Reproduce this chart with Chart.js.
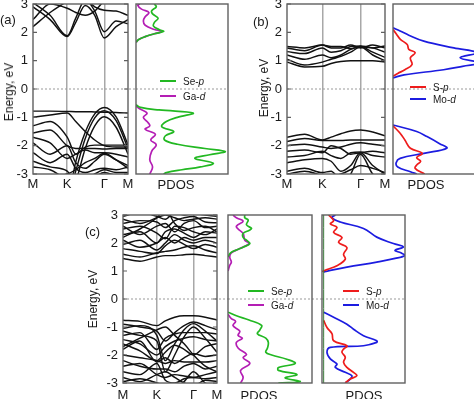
<!DOCTYPE html>
<html>
<head>
<meta charset="utf-8">
<script src="https://cdn.jsdelivr.net/npm/chart.js@4"></script>
<style>
  html, body { margin: 0; padding: 0; background: #fff; }
  body { width: 474px; height: 399px; position: relative; overflow: hidden;
         font-family: "Liberation Sans", Arial, sans-serif; color: #1a1a1a; }
  canvas { position: absolute; }
  .lbl { position: absolute; font-size: 13px; line-height: 15px; white-space: nowrap; }
  .mid { transform: translate(-50%, -50%); }
  .ylab { position: absolute; font-size: 12px; white-space: nowrap;
          transform: translate(-50%, -50%) rotate(-90deg); }
  .leg { position: absolute; display: flex; align-items: center; height: 12px;
         font-size: 10px; white-space: nowrap; }
  .leg .bar { width: 16px; height: 2px; margin-right: 7px; }
</style>
</head>
<body>
<canvas id="bandA"></canvas>
<canvas id="pdosA"></canvas>
<canvas id="bandB"></canvas>
<canvas id="pdosB"></canvas>
<canvas id="bandC"></canvas>
<canvas id="pdosC1"></canvas>
<canvas id="pdosC2"></canvas>

<div class="lbl" style="left:0;top:12px">(a)</div>
<div class="lbl" style="left:253px;top:14px">(b)</div>
<div class="lbl" style="left:85px;top:224px">(c)</div>

<div class="ylab" style="left:9px;top:92px">Energy, eV</div>
<div class="ylab" style="left:264px;top:88px">Energy, eV</div>
<div class="ylab" style="left:93px;top:299px">Energy, eV</div>

<div class="lbl mid" style="left:176px;top:184px">PDOS</div>
<div class="lbl mid" style="left:426px;top:184px">PDOS</div>
<div class="lbl mid" style="left:259px;top:395px">PDOS</div>
<div class="lbl mid" style="left:364px;top:395px">PDOS</div>

<div class="leg" style="left:160px;top:75px"><span class="bar" style="background:#22b822"></span>Se-<i>p</i></div>
<div class="leg" style="left:160px;top:90px"><span class="bar" style="background:#b41eb4"></span>Ga-<i>d</i></div>
<div class="leg" style="left:410px;top:81px"><span class="bar" style="background:#ee1c1c"></span>S-<i>p</i></div>
<div class="leg" style="left:410px;top:93px"><span class="bar" style="background:#1c1ce0"></span>Mo-<i>d</i></div>
<div class="leg" style="left:248px;top:285px"><span class="bar" style="background:#22b822"></span>Se-<i>p</i></div>
<div class="leg" style="left:248px;top:299px"><span class="bar" style="background:#b41eb4"></span>Ga-<i>d</i></div>
<div class="leg" style="left:343px;top:285px"><span class="bar" style="background:#ee1c1c"></span>S-<i>p</i></div>
<div class="leg" style="left:343px;top:299px"><span class="bar" style="background:#1c1ce0"></span>Mo-<i>d</i></div>

<script>
// ── k-path M–K–Γ–M (fractions of the path length) and energy ticks
const kPath   = [0, 0.18, 0.36, 0.45, 0.55, 0.65, 0.75, 0.875, 1];
const kTicks  = [0, 0.36, 0.75, 1];
const kLabels = ['M', 'K', 'Γ', 'M'];
const energyTicks = [-3, -2, -1, 0, 1, 2, 3];

// ── (a) GaSe bands, eV at each kPath point
const bandsA = [
  [2.9, 2.45, 1.85, 2.35, 2.95, 2.6, 1.8, 2.2, 2.45],
  [3.05, 2.6, 1.88, 2.5, 3.15, 2.75, 2.02, 2.4, 2.3],
  [2.2, 2.7, 3.1, 3.3, 3.2, 2.9, 2.78, 2.75, 2.6],
  [2.45, 3.0, 2.85, 2.7, 2.6, 2.75, 3.1, 3.2, 3.0],
  [-0.78, -0.78, -0.79, -0.8, -0.8, -0.81, -0.82, -0.83, -0.85],
  [-3.3, -3.6, -3.9, -2.57, -1.53, -0.88, -0.65, -0.98, -1.97],
  [-3.6, -3.8, -4.0, -2.9, -1.75, -1.02, -0.77, -1.12, -2.1],
  [-3.8, -4.0, -4.2, -3.3, -2.1, -1.3, -0.98, -1.35, -2.3],
  [-1.3, -1.15, -1.7, -2.3, -2.05, -1.98, -1.98, -1.98, -1.98],
  [-1.55, -1.45, -2.0, -2.1, -2.1, -2.1, -2.12, -2.1, -2.1],
  [-1.0, -0.92, -0.85, -1.15, -1.5, -1.8, -2.0, -2.05, -2.05],
  [-1.7, -1.9, -2.45, -2.3, -2.15, -2.25, -2.25, -2.3, -2.4],
  [-1.9, -2.3, -2.0, -2.6, -2.8, -2.55, -2.3, -2.5, -2.7],
  [-2.25, -2.6, -2.3, -2.8, -2.95, -2.85, -2.8, -2.85, -2.75],
  [-2.55, -2.75, -2.9, -3.3, -3.2, -3.0, -2.85, -2.95, -2.95],
  [-2.75, -2.85, -3.2, -3.3, -3.3, -3.1, -2.95, -3.05, -3.1],
  [-3.2, -3.1, -3.0, -2.85, -2.6, -2.45, -2.27, -2.5, -2.8]
];

// ── (b) MoS2 bands
const bandsB = [
  [0.95, 0.78, 0.8, 0.9, 0.97, 1.0, 1.0, 1.0, 0.95],
  [1.05, 0.85, 0.95, 1.05, 1.15, 1.3, 1.48, 1.2, 1.0],
  [1.2, 1.05, 1.2, 1.1, 1.2, 1.4, 1.5, 1.3, 1.12],
  [1.32, 1.25, 1.45, 1.3, 1.35, 1.5, 1.52, 1.45, 1.3],
  [1.45, 1.35, 1.55, 1.45, 1.45, 1.55, 1.45, 1.55, 1.45],
  [1.5, 1.45, 1.55, 1.5, 1.5, 1.42, 1.5, 1.45, 1.52],
  [-1.7, -1.6, -1.8, -1.7, -1.58, -1.48, -1.45, -1.52, -1.65],
  [-1.85, -1.75, -1.82, -1.82, -1.82, -1.8, -1.8, -1.8, -1.8],
  [-2.0, -1.95, -2.05, -2.1, -2.05, -1.95, -1.9, -1.95, -2.0],
  [-2.2, -2.15, -2.25, -2.0, -2.1, -2.3, -2.25, -2.2, -2.25],
  [-2.4, -2.35, -2.2, -2.35, -2.45, -2.25, -2.22, -2.35, -2.4],
  [-2.6, -2.5, -2.45, -2.55, -2.9, -2.7, -2.25, -2.7, -3.0],
  [-2.9, -2.8, -2.95, -2.9, -3.2, -3.0, -2.3, -3.0, -3.2],
  [-3.0, -2.9, -3.05, -3.1, -3.0, -2.85, -2.7, -2.8, -2.95]
];

// ── (c) GaSe/MoS2 bands
const bandsC = [
  [1.45, 1.35, 1.5, 1.55, 1.55, 1.58, 1.6, 1.55, 1.5],
  [1.6, 1.5, 1.65, 1.7, 1.75, 1.85, 1.9, 1.75, 1.65],
  [1.8, 1.7, 1.62, 1.9, 2.1, 1.95, 1.8, 1.95, 1.85],
  [1.95, 2.1, 1.75, 2.0, 2.3, 2.1, 2.0, 2.1, 2.0],
  [2.1, 1.85, 2.0, 2.2, 2.0, 2.2, 2.1, 2.2, 2.2],
  [2.3, 2.4, 2.0, 2.4, 2.5, 2.35, 2.2, 2.4, 2.35],
  [2.5, 2.6, 2.35, 2.15, 2.6, 2.55, 2.4, 2.3, 2.5],
  [2.6, 2.3, 2.6, 2.7, 2.4, 2.7, 2.8, 2.55, 2.6],
  [2.7, 2.8, 2.75, 2.55, 2.8, 2.9, 2.95, 2.75, 2.72],
  [2.85, 2.7, 2.9, 3.0, 2.9, 2.8, 2.85, 2.9, 2.85],
  [2.95, 3.1, 2.95, 2.85, 3.1, 3.0, 3.05, 3.0, 2.95],
  [2.2, 2.5, 2.9, 3.2, 2.7, 2.45, 2.55, 2.6, 2.4],
  [-0.76, -0.8, -0.95, -0.78, -0.65, -0.6, -0.6, -0.65, -0.75],
  [-0.9, -1.0, -1.15, -1.5, -1.2, -0.95, -0.82, -0.95, -1.1],
  [-1.05, -0.95, -1.3, -2.2, -1.6, -1.1, -0.88, -1.15, -1.5],
  [-1.15, -1.3, -1.5, -2.6, -2.0, -1.35, -1.0, -1.4, -1.9],
  [-1.3, -1.2, -1.8, -1.4, -1.25, -1.2, -1.2, -1.2, -1.25],
  [-1.45, -1.6, -2.0, -1.7, -1.5, -1.4, -1.35, -1.45, -1.5],
  [-1.6, -1.85, -2.2, -1.9, -1.65, -1.8, -2.0, -1.7, -1.6],
  [-1.8, -1.5, -2.25, -2.1, -2.3, -2.1, -1.95, -2.05, -2.0],
  [-2.0, -2.1, -2.2, -2.3, -2.2, -2.25, -2.25, -2.25, -2.2],
  [-2.2, -2.4, -2.5, -2.5, -2.6, -2.4, -2.3, -2.5, -2.4],
  [-2.4, -2.3, -2.7, -2.8, -2.7, -2.75, -2.8, -2.7, -2.6],
  [-2.6, -2.7, -2.3, -2.9, -3.0, -2.85, -2.8, -2.85, -2.8],
  [-2.8, -2.95, -2.7, -2.6, -2.8, -3.0, -3.1, -2.9, -2.95],
  [-2.95, -2.85, -3.0, -3.1, -3.2, -2.95, -2.6, -3.0, -3.1],
  [-1.7, -1.4, -1.1, -1.0, -1.3, -1.6, -2.0, -2.4, -2.6]
];

// ── PDOS curves: [energy eV, DOS (fraction of panel width)]
const seP_A_vb = [[-0.56,0],[-0.65,0.05],[-0.74,0.25],[-0.85,0.62],[-1.0,0.45],[-1.15,0.33],[-1.33,0.28],[-1.5,0.41],[-1.65,0.32],[-1.8,0.31],[-1.95,0.45],[-2.1,0.75],[-2.21,0.97],[-2.32,0.8],[-2.45,0.64],[-2.62,0.84],[-2.75,0.7],[-2.85,0.5],[-2.95,0.33],[-3.0,0.3]];
const gaD_A_vb = [[-0.6,0],[-0.7,0.04],[-0.85,0.12],[-1.0,0.08],[-1.15,0.12],[-1.3,0.15],[-1.42,0.1],[-1.6,0.21],[-1.8,0.16],[-1.97,0.22],[-2.2,0.17],[-2.5,0.15],[-2.75,0.18],[-3.0,0.15]];
const seP_A_cb = [[1.65,0],[1.75,0.03],[1.85,0.1],[1.95,0.2],[2.03,0.3],[2.1,0.25],[2.22,0.19],[2.35,0.2],[2.5,0.24],[2.65,0.18],[2.76,0.17],[2.9,0.22],[3.0,0.2]];
const gaD_A_cb = [[1.65,0],[1.75,0.03],[1.85,0.1],[1.95,0.2],[2.03,0.28],[2.1,0.2],[2.25,0.1],[2.4,0.08],[2.55,0.1],[2.7,0.14],[2.82,0.06],[2.95,0.02],[3.0,0.04]];

const sP_B_cb  = [[0.45,0],[0.55,0.06],[0.68,0.15],[0.86,0.24],[1.1,0.22],[1.28,0.28],[1.4,0.2],[1.57,0.18],[1.76,0.09],[1.95,0.04],[2.1,0]];
const moD_B_cb = [[0.39,0],[0.5,0.14],[0.68,0.64],[0.8,0.88],[0.92,1.1],[1.1,0.85],[1.28,1.06],[1.45,0.77],[1.69,0.39],[1.9,0.2],[2.05,0.09],[2.16,0]];
const sP_B_vb  = [[-1.3,0],[-1.56,0.09],[-1.8,0.15],[-2.09,0.22],[-2.27,0.37],[-2.42,0.3],[-2.55,0.35],[-2.68,0.3],[-2.8,0.28],[-3.0,0.4]];
const moD_B_vb = [[-1.27,0],[-1.5,0.3],[-1.68,0.43],[-1.93,0.59],[-2.09,0.68],[-2.27,0.39],[-2.45,0.09],[-2.6,0.04],[-2.75,0.06],[-2.92,0.22],[-3.0,0.3]];

const seP_C_cb = [[1.5,0],[1.65,0.03],[1.75,0.1],[1.85,0.18],[1.98,0.26],[2.1,0.22],[2.2,0.18],[2.34,0.18],[2.45,0.25],[2.52,0.28],[2.65,0.22],[2.82,0.24],[2.9,0.2],[3.0,0.2]];
const gaD_C_cb = [[1.0,0],[1.2,0.02],[1.32,0.04],[1.5,0.02],[1.65,0.04],[1.8,0.14],[1.98,0.25],[2.1,0.2],[2.34,0.18],[2.5,0.12],[2.6,0.1],[2.78,0.18],[2.9,0.1],[3.0,0.06]];
const seP_C_vb = [[-0.47,0],[-0.6,0.1],[-0.75,0.25],[-0.94,0.4],[-1.1,0.38],[-1.24,0.35],[-1.4,0.45],[-1.55,0.48],[-1.75,0.47],[-1.9,0.45],[-2.0,0.52],[-2.15,0.7],[-2.3,0.8],[-2.45,0.6],[-2.55,0.6],[-2.7,0.82],[-2.82,0.68],[-2.95,0.86],[-3.0,0.6]];
const gaD_C_vb = [[-0.55,0],[-0.7,0.04],[-0.8,0.09],[-0.95,0.06],[-1.15,0.14],[-1.3,0.12],[-1.4,0.17],[-1.55,0.1],[-1.75,0.12],[-1.98,0.22],[-2.1,0.18],[-2.3,0.26],[-2.55,0.15],[-2.8,0.18],[-3.0,0.15]];

const sP_C_cb  = [[0.98,0],[1.05,0.06],[1.19,0.18],[1.42,0.28],[1.6,0.26],[1.84,0.3],[2.02,0.2],[2.2,0.24],[2.38,0.14],[2.56,0.18],[2.68,0.1],[2.8,0.14],[3.0,0.08]];
const moD_C_cb = [[0.96,0.02],[1.02,0.1],[1.14,0.3],[1.32,0.66],[1.45,0.88],[1.56,1.0],[1.65,0.95],[1.74,0.88],[1.86,0.98],[1.98,0.86],[2.21,0.66],[2.52,0.5],[2.75,0.22],[2.9,0.12],[3.0,0.16]];
const sP_C_vb  = [[-0.76,0.02],[-1.02,0.06],[-1.24,0.12],[-1.49,0.14],[-1.67,0.3],[-1.79,0.26],[-1.9,0.24],[-2.08,0.28],[-2.26,0.26],[-2.44,0.3],[-2.62,0.38],[-2.74,0.42],[-2.86,0.34],[-3.0,0.28]];
const moD_C_vb = [[-0.47,0.02],[-0.65,0.14],[-0.9,0.3],[-1.08,0.38],[-1.31,0.5],[-1.49,0.66],[-1.55,0.66],[-1.67,0.5],[-1.73,0.1],[-1.9,0.06],[-2.14,0.1],[-2.32,0.18],[-2.44,0.16],[-2.62,0.28],[-2.74,0.36],[-2.86,0.34],[-3.0,0.28]];
const seP_C2   = [[-3.0,0.02],[3.0,0.02]];

const GREEN = '#22b822', PURPLE = '#b41eb4', RED = '#ee1c1c', BLUE = '#1c1ce0';
const FRAME = '#606060';

Chart.defaults.font.family = '"Liberation Sans", Arial, sans-serif';
Chart.defaults.color = '#1a1a1a';

// Caixa à volta da área, linha pontilhada em E = 0 (prolongada pelo intervalo
// até ao painel seguinte) e ticks para dentro (só nas bandas)
const framePlugin = {
  id: 'frame',
  beforeDatasetsDraw(chart, args, opts) {
    const { ctx, chartArea: a, scales: { y } } = chart;
    const y0 = y.getPixelForValue(0);
    ctx.save();
    ctx.strokeStyle = '#9a9a9a';
    ctx.lineWidth = 1;
    ctx.setLineDash([2, 2]);
    ctx.beginPath();
    ctx.moveTo(a.left, y0);
    ctx.lineTo(a.right + (opts.extend || 0), y0);
    ctx.stroke();
    ctx.restore();
  },
  afterDraw(chart, args, opts) {
    const { ctx, chartArea: a, scales: { y } } = chart;
    ctx.save();
    ctx.strokeStyle = FRAME;
    ctx.lineWidth = 1.4;
    ctx.strokeRect(a.left, a.top, a.right - a.left, a.bottom - a.top);
    if (opts.ticks) {
      ctx.lineWidth = 1.2;
      energyTicks.forEach(v => {
        const py = y.getPixelForValue(v);
        ctx.beginPath();
        ctx.moveTo(a.left, py);  ctx.lineTo(a.left + 4, py);
        ctx.moveTo(a.right, py); ctx.lineTo(a.right - 4, py);
        ctx.stroke();
      });
    }
    ctx.restore();
  }
};

function place(id, left, top, w, h) {
  const c = document.getElementById(id);
  c.width = w; c.height = h;
  c.style.left = left + 'px'; c.style.top = top + 'px';
  c.style.width = w + 'px'; c.style.height = h + 'px';
  return c;
}

// area = {l, t, r, b} em pixels da página
function bandChart(id, area, rows, labelPad, extend) {
  const yW = 33, xH = 26, padTop = 20, padRight = 12;
  const canvas = place(id, area.l - yW, area.t - padTop,
                       yW + (area.r - area.l) + padRight, padTop + (area.b - area.t) + xH);
  return new Chart(canvas, {
    type: 'line',
    data: {
      datasets: rows.map(r => ({
        data: r.map((e, i) => ({ x: kPath[i], y: e })),
        borderColor: '#111',
        borderWidth: 1.45,
        pointRadius: 0,
        cubicInterpolationMode: 'monotone',
        fill: false
      }))
    },
    options: {
      responsive: false,
      animation: false,
      events: [],
      layout: { padding: { left: 0, right: padRight, top: padTop, bottom: 0 } },
      plugins: { legend: { display: false }, tooltip: { enabled: false }, frame: { ticks: true, extend } },
      scales: {
        x: {
          type: 'linear', min: 0, max: 1,
          afterBuildTicks: s => { s.ticks = kTicks.map(v => ({ value: v })); },
          afterFit: s => { s.height = xH; },
          border: { display: false },
          grid: {
            drawTicks: false,
            lineWidth: 1.5,
            color: ctx => (ctx.index === 1 || ctx.index === 2) ? '#a8a8a8' : 'rgba(0,0,0,0)'
          },
          ticks: {
            autoSkip: false, maxRotation: 0, padding: labelPad,
            font: { size: 13 },
            callback: (v, i) => kLabels[i]
          }
        },
        y: {
          min: -3, max: 3,
          afterFit: s => { s.width = yW; },
          border: { display: false },
          grid: { display: false, drawTicks: false },
          ticks: { stepSize: 1, padding: 5, font: { size: 13 } }
        }
      }
    },
    plugins: [framePlugin]
  });
}

function pdosChart(id, area, curves, xMax, extend) {
  const m = 2, mr = 12;
  const canvas = place(id, area.l - m, area.t - m, (area.r - area.l) + m + mr, (area.b - area.t) + 2 * m);
  return new Chart(canvas, {
    type: 'scatter',
    data: {
      datasets: curves.map(([pts, color, w]) => ({
        data: pts.map(([e, d]) => ({ x: d, y: e })),
        borderColor: color,
        borderWidth: w || 1.7,
        pointRadius: 0,
        showLine: true,
        tension: 0.4,
        fill: false
      }))
    },
    options: {
      responsive: false,
      animation: false,
      events: [],
      layout: { padding: { left: m, top: m, bottom: m, right: mr } },
      plugins: { legend: { display: false }, tooltip: { enabled: false }, frame: { ticks: false, extend } },
      scales: {
        x: { type: 'linear', min: 0, max: xMax, display: false },
        y: { type: 'linear', min: -3, max: 3, display: false }
      }
    },
    plugins: [framePlugin]
  });
}

bandChart('bandA', { l: 33, t: 4, r: 128, b: 174 }, bandsA, 3, 8);
pdosChart('pdosA', { l: 136, t: 4, r: 228, b: 174 }, [
  [seP_A_vb, GREEN], [seP_A_cb, GREEN], [gaD_A_vb, PURPLE], [gaD_A_cb, PURPLE]
], 1, 0);

bandChart('bandB', { l: 287, t: 4, r: 385, b: 174 }, bandsB, 3, 8);
pdosChart('pdosB', { l: 393, t: 4, r: 476, b: 174 }, [
  [sP_B_vb, RED], [sP_B_cb, RED], [moD_B_vb, BLUE], [moD_B_cb, BLUE]
], 1.05, 0);

bandChart('bandC', { l: 123, t: 215, r: 217, b: 383 }, bandsC, 5, 11);
pdosChart('pdosC1', { l: 228, t: 215, r: 312, b: 383 }, [
  [seP_C_vb, GREEN], [seP_C_cb, GREEN], [gaD_C_vb, PURPLE], [gaD_C_cb, PURPLE]
], 1, 10);
pdosChart('pdosC2', { l: 322, t: 215, r: 405, b: 383 }, [
  [seP_C2, '#3a7a3a', 1], [sP_C_vb, RED], [sP_C_cb, RED], [moD_C_vb, BLUE], [moD_C_cb, BLUE]
], 1, 0);
</script>
</body>
</html>
